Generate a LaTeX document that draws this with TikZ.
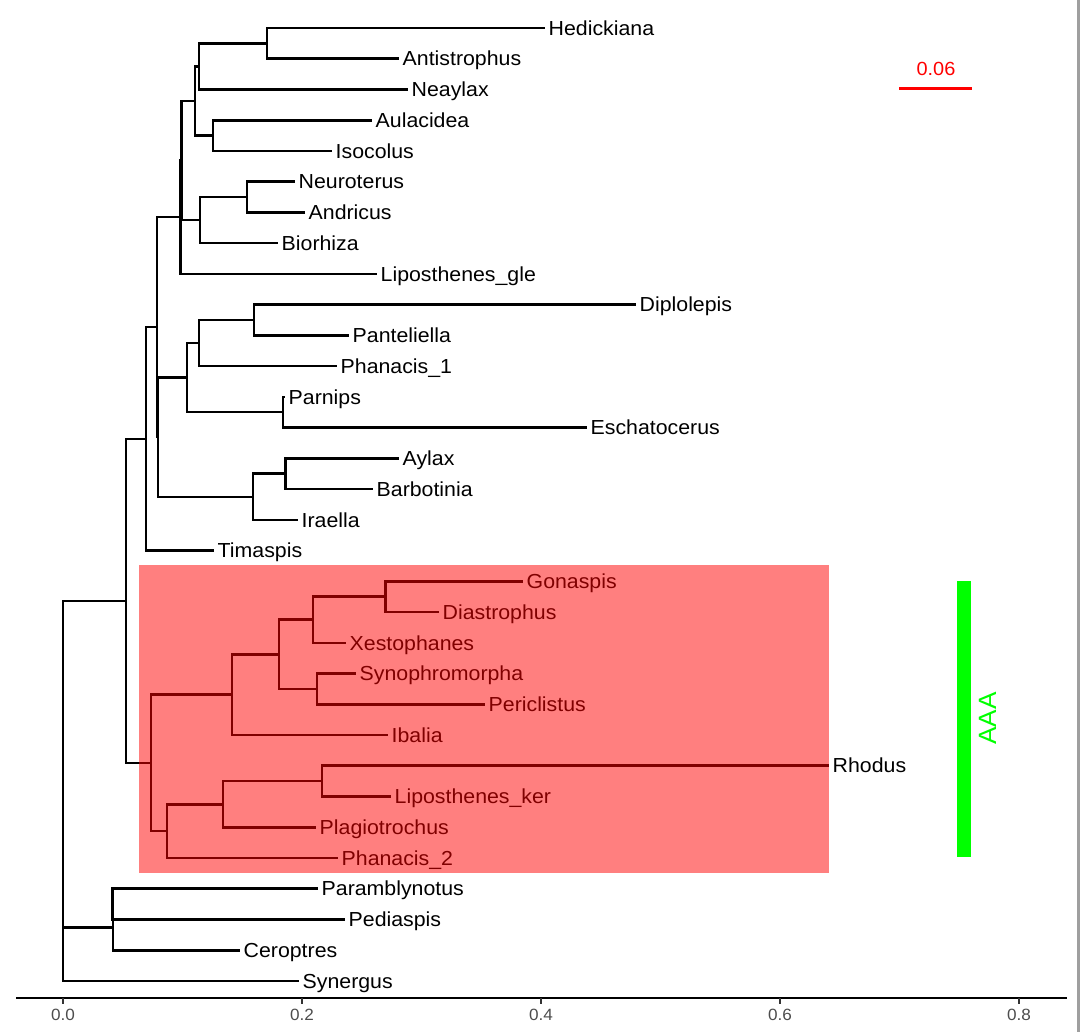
\documentclass[tikz,border=0pt]{standalone}
\usepackage{fontspec}
\setmainfont[FakeStretch=1.05]{Liberation Sans}
\definecolor{barred}{RGB}{255,0,0}
\definecolor{bargreen}{RGB}{0,255,0}
\definecolor{axgray}{RGB}{77,77,77}
\definecolor{tickgray}{RGB}{51,51,51}
\newcommand\tipfont{\fontsize{20.3}{24}\selectfont}
\newcommand\axfont{\fontsize{16.3}{19}\selectfont}
\begin{document}
\begin{tikzpicture}[x=1pt,y=-1pt,
  edge/.style={line width=2.6pt, black},
  tiplab/.style={anchor=base west, inner sep=0pt, font=\tipfont, xshift=3.5pt, yshift=-7.2pt},
  ticklab/.style={anchor=center, inner sep=0pt, font=\axfont, text=axgray},
  hilight/.style={fill=barred, fill opacity=0.5, draw=none}]
\useasboundingbox (0,0) rectangle (1080,1032);
\fill[white] (0,0) rectangle (1080,1032);
\fill[gray!75] (1076.5,0) rectangle (1080,1032);
% tips
\foreach \n/\t/\x/\i in {
  Hedickiana/Hedickiana/545/0, Antistrophus/Antistrophus/399/1, Neaylax/Neaylax/408/2,
  Aulacidea/Aulacidea/372/3, Isocolus/Isocolus/332/4, Neuroterus/Neuroterus/295/5,
  Andricus/Andricus/305/6, Biorhiza/Biorhiza/278/7, Lgle/Liposthenes\_gle/377/8,
  Diplolepis/Diplolepis/636/9, Panteliella/Panteliella/349/10, PhanacisA/Phanacis\_1/337/11,
  Parnips/Parnips/285/12, Eschatocerus/Eschatocerus/587/13, Aylax/Aylax/399/14,
  Barbotinia/Barbotinia/373/15, Iraella/Iraella/298/16, Timaspis/Timaspis/214/17,
  Gonaspis/Gonaspis/523/18, Diastrophus/Diastrophus/439/19, Xestophanes/Xestophanes/346/20,
  Synophromorpha/Synophromorpha/356/21, Periclistus/Periclistus/485/22, Ibalia/Ibalia/388/23,
  Rhodus/Rhodus/829/24, Lker/Liposthenes\_ker/391/25, Plagiotrochus/Plagiotrochus/316/26,
  PhanacisB/Phanacis\_2/338/27, Paramblynotus/Paramblynotus/318/28, Pediaspis/Pediaspis/345/29,
  Ceroptres/Ceroptres/240/30, Synergus/Synergus/299/31}
{
  \coordinate (\n) at (\x,{28+30.74*\i});
  \node[tiplab] (lab-\n) at (\n) {\t};
}
% internal nodes
\coordinate (root) at (63,777.5);
\coordinate (RF) at (63,954.1);
\coordinate (OG) at (113,927.2);
\coordinate (OGa) at (112.5,904.1);
\coordinate (AD) at (126,600.9);
\coordinate (AC) at (146,438.9);
\coordinate (P) at (157,327.2);
\coordinate (Q) at (158,437.2);
\coordinate (R) at (180.5,217.2);
\coordinate (T) at (181.5,160.6);
\coordinate (V) at (195,101);
\coordinate (U) at (199,66.4);
\coordinate (HA) at (267,43.4);
\coordinate (AIs) at (213,135.6);
\coordinate (W) at (200,220.1);
\coordinate (X) at (247,197.1);
\coordinate (Y) at (187,377.7);
\coordinate (Z) at (199,343.1);
\coordinate (DP) at (254,320);
\coordinate (PE) at (283,412.2);
\coordinate (AA) at (253,496.8);
\coordinate (AB) at (285.5,473.8);
\coordinate (AG) at (151,762.9);
\coordinate (AH) at (232,694.7);
\coordinate (AI) at (279,654.3);
\coordinate (AJ) at (313,619.7);
\coordinate (AK) at (385.5,596.7);
\coordinate (AL) at (317,688.9);
\coordinate (AM) at (167,831.1);
\coordinate (AN) at (223,804.2);
\coordinate (AO) at (322,781.1);
% edges
\foreach \p/\c in {root/AD, root/RF, RF/OG, RF/Synergus, OG/OGa, OG/Ceroptres,
  OGa/Paramblynotus, OGa/Pediaspis, AD/AC, AD/AG, AC/P, AC/Timaspis, P/R, P/Q,
  R/T, R/Lgle, T/V, T/W, V/U, V/AIs, U/HA, U/Neaylax, HA/Hedickiana, HA/Antistrophus,
  AIs/Aulacidea, AIs/Isocolus, W/X, W/Biorhiza, X/Neuroterus, X/Andricus,
  Q/Y, Q/AA, Y/Z, Y/PE, Z/DP, Z/PhanacisA, DP/Diplolepis, DP/Panteliella,
  PE/Parnips, PE/Eschatocerus, AA/AB, AA/Iraella, AB/Aylax, AB/Barbotinia,
  AG/AH, AG/AM, AH/AI, AH/Ibalia, AI/AJ, AI/AL, AJ/AK, AJ/Xestophanes,
  AK/Gonaspis, AK/Diastrophus, AL/Synophromorpha, AL/Periclistus,
  AM/AN, AM/PhanacisB, AN/AO, AN/Plagiotrochus, AO/Rhodus, AO/Lker}
  \draw[edge] (\p) |- (\c);
% highlight
\path[hilight] (139,565) rectangle (829,873);
% clade bar
\coordinate (cbT) at (964,581);
\coordinate (cbB) at (964,857);
\draw[bargreen, line width=14pt] (cbT) -- (cbB);
\node[rotate=90, anchor=center, inner sep=0pt, text=bargreen, font=\fontsize{25}{30}\selectfont] (cblab) at (988,718.5) {AAA};
% scale bar
\coordinate (sbL) at (899,89);
\coordinate (sbR) at (972,89);
\draw[barred, line width=3pt] (sbL) -- (sbR);
\node[anchor=center, inner sep=0pt, text=barred, font=\fontsize{19}{23}\selectfont] (sblab) at (936,69.3) {0.06};
% axis
\coordinate (axL) at (16,998);
\coordinate (axR) at (1067,998);
\draw[line width=2.2pt, black] (axL) -- (axR);
\foreach \v/\x in {0.0/63, 0.2/302, 0.4/541, 0.6/780, 0.8/1019} {
  \coordinate (tk\x) at (\x,998);
  \draw[line width=1.8pt, tickgray] (tk\x) -- ++(0,6);
  \node[ticklab] (tl\x) at (\x,1015) {\v};
}
\end{tikzpicture}
\end{document}
